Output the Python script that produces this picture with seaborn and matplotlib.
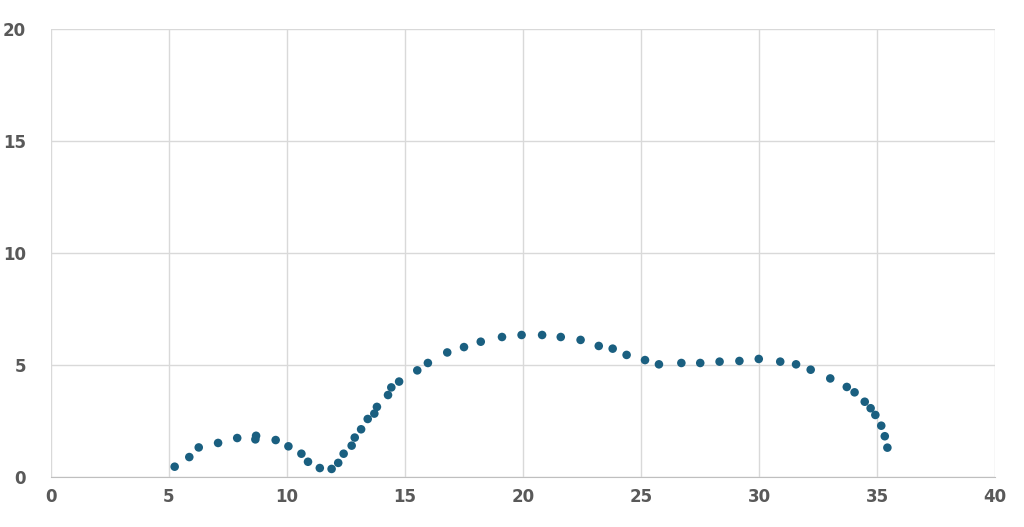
import matplotlib
matplotlib.use("Agg")
import matplotlib.pyplot as plt
import seaborn as sns

x_vals = [5.24, 5.86, 6.26, 7.08, 7.89, 8.69, 8.66, 9.52, 10.06, 10.61, 10.89, 11.39,
          11.89, 12.17, 12.40, 12.74, 12.87, 13.14, 13.42, 13.70, 13.81, 14.28, 14.42,
          14.75, 15.52, 15.97, 16.79, 17.50, 18.21, 19.11, 19.94, 20.81, 21.60, 22.44,
          23.21, 23.80, 24.39, 25.17, 25.76, 26.71, 27.51, 28.33, 29.17, 29.99, 30.90,
          31.57, 32.19, 33.02, 33.72, 34.05, 34.48, 34.73, 34.93, 35.18, 35.33, 35.44]
y_vals = [0.46, 0.89, 1.32, 1.52, 1.74, 1.84, 1.68, 1.65, 1.37, 1.04, 0.68, 0.40,
          0.36, 0.63, 1.04, 1.40, 1.76, 2.13, 2.59, 2.83, 3.13, 3.66, 4.00,
          4.26, 4.76, 5.09, 5.56, 5.80, 6.04, 6.25, 6.34, 6.34, 6.25, 6.12,
          5.85, 5.73, 5.45, 5.22, 5.03, 5.09, 5.09, 5.15, 5.18, 5.27, 5.15,
          5.03, 4.79, 4.40, 4.02, 3.78, 3.36, 3.07, 2.77, 2.29, 1.82, 1.31]

sns.set_style("white")
fig = plt.figure(figsize=(10.24, 5.27), dpi=100)
ax = fig.add_axes([51 / 1024, 50 / 527, 944 / 1024, 448 / 527])
sns.scatterplot(x=x_vals, y=y_vals, ax=ax, color="#1a5f80", s=38, edgecolor="none", zorder=3)

ax.set_xlim(0, 40)
ax.set_ylim(0, 20)
ax.set_xticks(range(0, 41, 5))
ax.set_yticks(range(0, 21, 5))
ax.grid(True, color="#d9d9d9", linewidth=1)
for side in ["left", "right", "top"]:
    ax.spines[side].set_visible(False)
ax.spines["bottom"].set_color("#bfbfbf")
ax.tick_params(axis="both", length=0, labelsize=12, labelcolor="#595959", pad=8)
for lbl in ax.get_xticklabels() + ax.get_yticklabels():
    lbl.set_fontweight("bold")
ax.tick_params(axis="y", pad=18)

fig.savefig("out.png", dpi=100)
